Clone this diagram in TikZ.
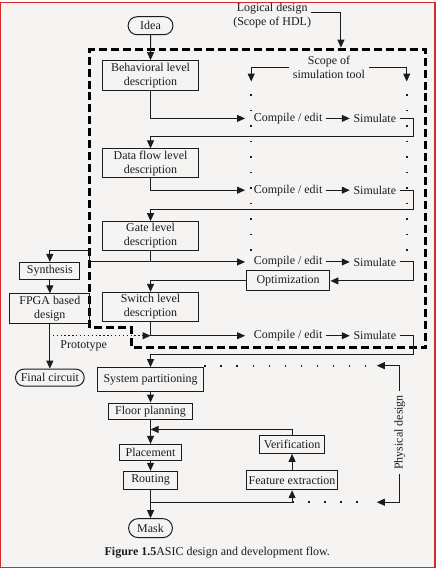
\documentclass[tikz,border=0pt]{standalone}
\usepackage{fontspec}
\setmainfont{Liberation Serif}
\usetikzlibrary{shapes,shapes.misc,arrows.meta}
\definecolor{paper}{HTML}{F5F4F3}
\definecolor{ink}{HTML}{1C1C1C}
\definecolor{frame}{HTML}{D42A2A}

\begin{document}
\begin{tikzpicture}[x=1pt,y=-1pt,->,>={Triangle[length=8pt,width=7pt]},line width=1pt,color=ink,font=\fontsize{12}{14}\selectfont]
   \fill[paper] (0,0) rectangle (437,568);
   \draw[-,frame,line width=1.5pt] (0.75,0.75) rectangle (436.25,567.25);
   \tikzstyle{stage}=[draw, rectangle, line width=1pt, inner sep=2pt, align=center]
   \tikzstyle{term}=[stage, rounded rectangle]
   \tikzstyle{hdl}=[-, black, line width=2.7pt, dash pattern=on 8pt off 4pt]
   \tikzstyle{scopedots}=[-, line width=1.7pt, dash pattern=on 1.5pt off 14pt]
   \tikzstyle{physdots}=[-, line width=1.8pt, dash pattern=on 1.6pt off 14.5pt]
   \tikzstyle{protodots}=[line width=1.3pt, dash pattern=on 1.3pt off 2.6pt]
   % logical design (HDL) region
   \draw[hdl] (90,327) -- (90,48) -- (427,48) -- (427,347) -- (132,347) -- (132,327) -- cycle;
   \node (logd) at (273,7) {Logical design};
   \node (hdlnote) at (273,21) {(Scope of HDL)};
   \coordinate (lgtip) at (342,46);
   \draw ([yshift=-4pt]logd.east) -| (lgtip);
   % simulation tool scope
   \node[align=center] (simscope) at (330,66) {Scope of\\simulation tool};
   \coordinate (sc1) at (252,80);
   \coordinate (sc2) at (408,80);
   \draw (simscope.west) -| (sc1);
   \draw (simscope.east) -| (sc2);
   \draw[scopedots] (252,93) -- (252,258);
   \draw[scopedots] (408,93) -- (408,258);
   % description levels
   \node[term, minimum width=49pt, minimum height=18pt] (idea) at (151,24) {Idea};
   \node[stage, minimum width=96pt, minimum height=30pt] (beh) at (151,74) {Behavioral level\\description};
   \node[stage, minimum width=96pt, minimum height=29pt] (df) at (151,162) {Data flow level\\description};
   \node[stage, minimum width=96pt, minimum height=29pt] (gate) at (151,235) {Gate level\\description};
   \node[stage, minimum width=96pt, minimum height=29pt] (sw) at (151,306) {Switch level\\description};
   \path (idea) edge (beh);
   \foreach \i/\y in {1/117,2/189,3/261,4/335} {
       \node (ce\i) at (289,\y) {Compile / edit};
       \node (sim\i) at (376,\y) {Simulate};
       \path (ce\i) edge (sim\i);
   }
   \coordinate (r1) at (415,135);
   \coordinate (r2) at (415,208);
   \coordinate (r3) at (415,280);
   \coordinate (r4) at (415,354);
   \draw[shorten >=5pt] (beh) |- (ce1);
   \draw (sim1) -| (r1) -| (df);
   \draw[shorten >=5pt] (df) |- (ce2);
   \draw (sim2) -| (r2) -| (gate);
   \draw[shorten >=5pt] (gate) |- (ce3);
   \node[stage, minimum width=84pt, minimum height=20pt] (opt) at (289,280) {Optimization};
   \draw (sim3) -| (r3) -- (opt);
   \draw (opt) -| (sw);
   \draw[shorten >=5pt] (sw) |- (ce4);
   % FPGA prototype branch
   \node[stage, minimum width=60pt, minimum height=17pt] (syn) at (50,270) {Synthesis};
   \node[stage, minimum width=80pt, minimum height=30pt] (fpga) at (50,308) {FPGA based\\design};
   \node[term, minimum width=73pt, minimum height=17pt] (final) at (50,377) {Final circuit};
   \coordinate (synbr) at (90,249);
   \draw (gate.south |- ce3) -| (synbr) -| (syn);
   \path (syn) edge (fpga);
   \path (fpga) edge (final);
   \coordinate (swj) at (151,335);
   \draw[protodots] ([xshift=3pt]fpga.south |- swj) -- (swj);
   \node (proto) at (84,345) {Prototype};
   % physical design
   \node[stage, minimum width=107pt, minimum height=24pt] (syspart) at (151,379) {System partitioning};
   \node[stage, minimum width=85pt, minimum height=17pt] (fp) at (151,411) {Floor planning};
   \node[stage, minimum width=62pt, minimum height=16pt] (place) at (151,452) {Placement};
   \node[stage, minimum width=54pt, minimum height=18pt] (rout) at (151,480) {Routing};
   \node[term, minimum width=48pt, minimum height=19pt] (mask) at (151,528) {Mask};
   \node[stage, minimum width=66pt, minimum height=18pt] (ver) at (293,444) {Verification};
   \node[stage, minimum width=89pt, minimum height=19pt] (fe) at (293,480) {Feature extraction};
   \draw (sim4) -| (r4) -| (syspart);
   \path (syspart) edge (fp);
   \path (fp) edge (place);
   \path (place) edge (rout);
   \path (rout) edge (mask);
   \coordinate (rj) at (151,502);
   \draw (rj) -| (fe);
   \path (fe) edge (ver);
   \coordinate (vj) at (151,429);
   \draw (ver) |- (vj);
   \node[rotate=90] (phys) at (401,432) {Physical design};
   \coordinate (pdtop) at (378,365);
   \coordinate (pdbot) at (378,502);
   \draw (phys.east) |- (pdtop);
   \draw (phys.west) |- (pdbot);
   \draw[physdots] (syspart.east |- pdtop) -- ([xshift=-9pt]pdtop);
   \draw[physdots] (fe.south |- pdbot) -- ([xshift=-9pt]pdbot);
   \node (caption) at (218,553) {\textbf{Figure 1.5}ASIC design and development flow.};
\end{tikzpicture}
\end{document}
